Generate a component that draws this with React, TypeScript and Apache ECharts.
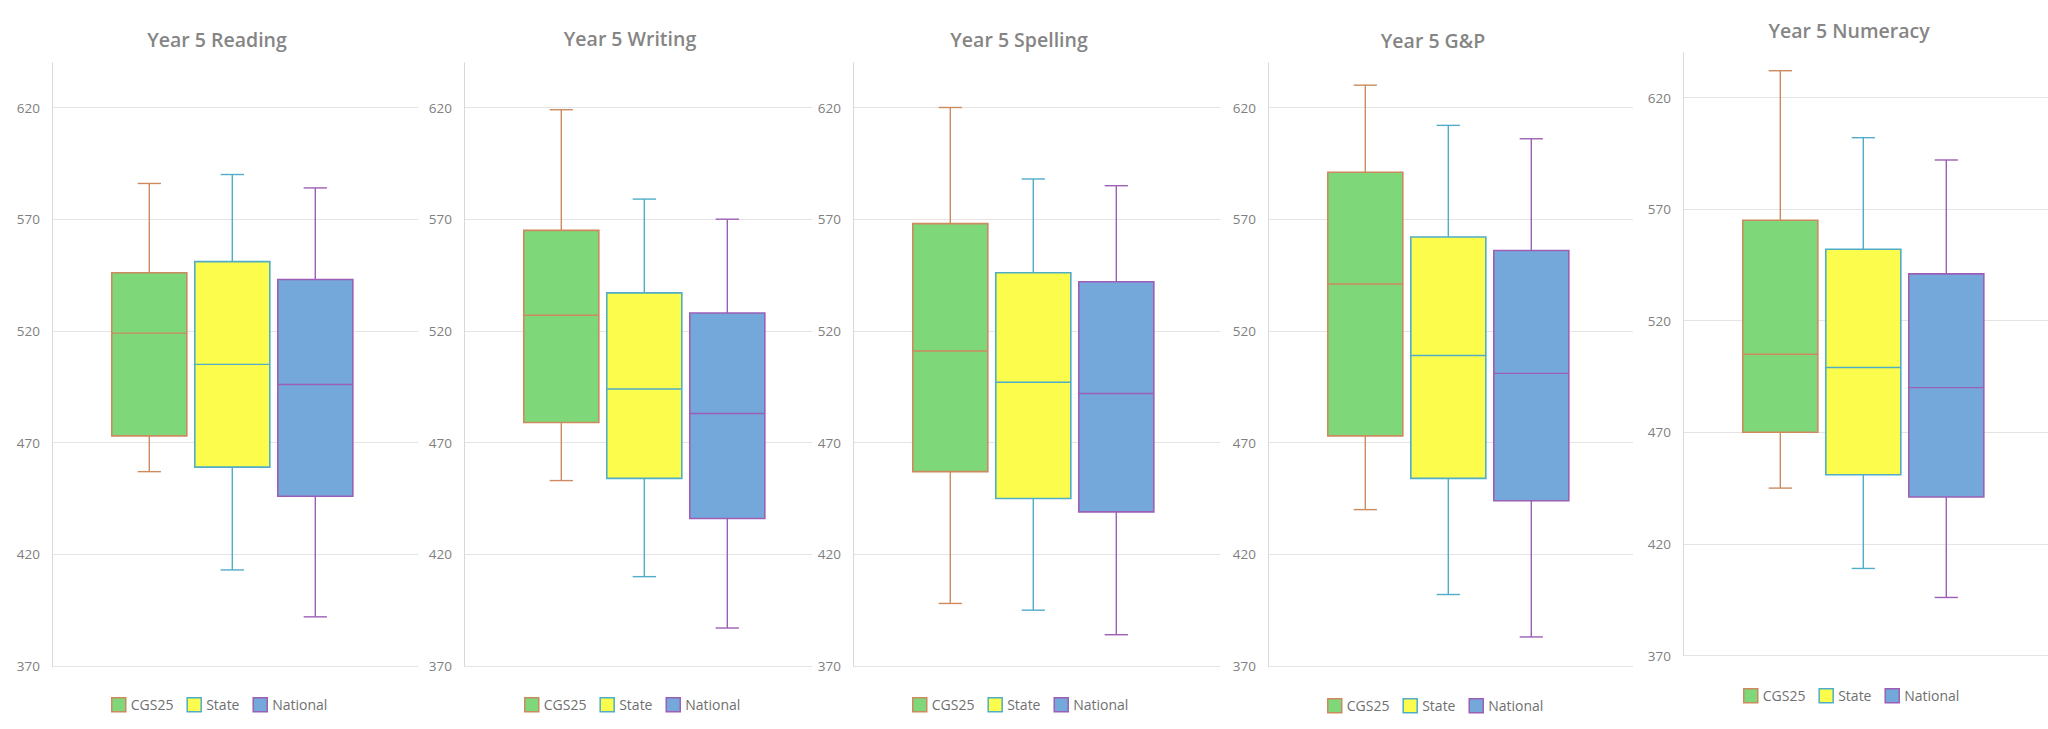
import React, { useEffect, useRef } from "react";
import * as echarts from "echarts";

// NAPLAN Year 5 score distributions: [min, Q1, median, Q3, max]
const subjects = ["Year 5 Reading", "Year 5 Writing", "Year 5 Spelling", "Year 5 G&P", "Year 5 Numeracy"];
const groups = ["CGS25", "State", "National"];

const cgs25 = [
  [457, 473, 519, 546, 586],
  [453, 479, 527, 565, 619],
  [398, 457, 511, 568, 620],
  [440, 473, 541, 591, 630],
  [445, 470, 505, 565, 632],
];
const state = [
  [413, 459, 505, 551, 590],
  [410, 454, 494, 537, 579],
  [395, 445, 497, 546, 588],
  [402, 454, 509, 562, 612],
  [409, 451, 499, 552, 602],
];
const national = [
  [392, 446, 496, 543, 584],
  [387, 436, 483, 528, 570],
  [384, 439, 492, 542, 585],
  [383, 444, 501, 556, 606],
  [396, 441, 490, 541, 592],
];

const axisMin = 370;
const axisMax = 640;
const tickStep = 50;

const groupValues = [cgs25, state, national];
const fills = ["#7ED87A", "#FCFC4C", "#74A8DA"];
const strokes = ["#CC8A5E", "#4FADC8", "#9C5FB5"];

const W = 2048;
const H = 729;

// Placement of each small chart on the page
const panels = [
  { axisX: 52, rightX: 418, y620: 107.5, y370: 666, titleX: 217, titleY: 39.5, legendX: 111, legendY: 704 },
  { axisX: 464, rightX: 812, y620: 107.5, y370: 666, titleX: 630, titleY: 38.5, legendX: 524, legendY: 704 },
  { axisX: 853, rightX: 1220, y620: 107.5, y370: 666, titleX: 1019, titleY: 39.5, legendX: 912, legendY: 704 },
  { axisX: 1268, rightX: 1633, y620: 107.5, y370: 666, titleX: 1433, titleY: 40, legendX: 1327, legendY: 705 },
  { axisX: 1683, rightX: 2048, y620: 97.5, y370: 655.5, titleX: 1849, titleY: 30, legendX: 1743, legendY: 695 },
];

const FONT = "'Open Sans', Lato, sans-serif";

function makeBoxRenderer(gi: number) {
  return (params: any, api: any) => {
    const cat = api.value(0);
    const pMin = api.coord([cat, api.value(1)]);
    const pQ1 = api.coord([cat, api.value(2)]);
    const pMed = api.coord([cat, api.value(3)]);
    const pQ3 = api.coord([cat, api.value(4)]);
    const pMax = api.coord([cat, api.value(5)]);
    const band = api.size([1, 0])[0];
    const half = band * 0.452;
    const capHalf = band * 0.14;
    const cx = pMed[0];
    const line = { stroke: strokes[gi], lineWidth: 1.4 };
    return {
      type: "group",
      children: [
        { type: "line", shape: { x1: cx, y1: pMax[1], x2: cx, y2: pQ3[1] }, style: line },
        { type: "line", shape: { x1: cx, y1: pQ1[1], x2: cx, y2: pMin[1] }, style: line },
        { type: "line", shape: { x1: cx - capHalf, y1: pMax[1], x2: cx + capHalf, y2: pMax[1] }, style: line },
        { type: "line", shape: { x1: cx - capHalf, y1: pMin[1], x2: cx + capHalf, y2: pMin[1] }, style: line },
        {
          type: "rect",
          shape: { x: cx - half, y: pQ3[1], width: half * 2, height: pQ1[1] - pQ3[1] },
          style: { fill: fills[gi], stroke: strokes[gi], lineWidth: 1.6 },
        },
        { type: "line", shape: { x1: cx - half, y1: pMed[1], x2: cx + half, y2: pMed[1] }, style: { stroke: strokes[gi], lineWidth: 1.4 } },
      ],
    };
  };
}

function buildOption() {
  const grid: any[] = [];
  const xAxis: any[] = [];
  const yAxis: any[] = [];
  const series: any[] = [];
  const legend: any[] = [];
  const graphic: any[] = [];

  panels.forEach((p, i) => {
    const pxPerUnit = (p.y370 - p.y620) / 250;
    const top = p.y370 - (axisMax - axisMin) * pxPerUnit;
    const bottom = H - p.y370;
    const frameIdx = i * 2;
    const plotIdx = i * 2 + 1;

    // frame: axis line, tick labels and gridlines
    grid.push({ left: p.axisX, top, width: p.rightX - p.axisX, bottom, containLabel: false });
    // plot area holding the three boxes
    grid.push({ left: p.axisX + 55.8, top, width: 249, bottom, containLabel: false });

    xAxis.push({ gridIndex: frameIdx, type: "category", data: [""], show: false });
    xAxis.push({ gridIndex: plotIdx, type: "category", data: groups, show: false });

    yAxis.push({
      gridIndex: frameIdx,
      type: "value",
      min: axisMin,
      max: axisMax,
      interval: tickStep,
      axisLine: { show: true, lineStyle: { color: "#d9d9d9", width: 1 } },
      axisTick: { show: false },
      axisLabel: { showMaxLabel: false, margin: 12, color: "#808080", fontSize: 13.5, fontFamily: FONT },
      splitLine: { show: true, showMaxLine: false, lineStyle: { color: "#e4e4e4", width: 1 } },
    });
    yAxis.push({ gridIndex: plotIdx, type: "value", min: axisMin, max: axisMax, show: false });

    groups.forEach((g, gi) => {
      series.push({
        type: "custom",
        name: g,
        xAxisIndex: plotIdx,
        yAxisIndex: plotIdx,
        data: [[gi, ...groupValues[gi][i]]],
        encode: { x: 0, y: [1, 2, 3, 4, 5] },
        itemStyle: { color: fills[gi], borderColor: strokes[gi], borderWidth: 1.5 },
        renderItem: makeBoxRenderer(gi),
      });
    });

    legend.push({
      left: p.legendX,
      top: p.legendY - 7,
      padding: 0,
      itemWidth: 14,
      itemHeight: 14,
      itemGap: 13,
      icon: "rect",
      selectedMode: false,
      data: groups,
      itemStyle: { borderWidth: 1.5 },
      textStyle: { color: "#707070", fontSize: 14, fontFamily: FONT },
    });

    graphic.push({
      type: "text",
      x: p.titleX,
      y: p.titleY,
      style: {
        text: subjects[i],
        fill: "#858585",
        font: `600 19.5px ${FONT}`,
        align: "center",
        verticalAlign: "middle",
      },
    });
  });

  return {
    animation: false,
    backgroundColor: "#ffffff",
    grid,
    xAxis,
    yAxis,
    series,
    legend,
    graphic,
  };
}

export default function App() {
  const ref = useRef<HTMLDivElement>(null);

  useEffect(() => {
    if (!ref.current) return;
    const chart = echarts.init(ref.current, null, { renderer: "svg" });
    chart.setOption(buildOption() as any);
    return () => chart.dispose();
  }, []);

  return (
    <div
      ref={ref}
      style={{ position: "absolute", left: 0, top: 0, width: W, height: H, background: "#ffffff" }}
    />
  );
}
